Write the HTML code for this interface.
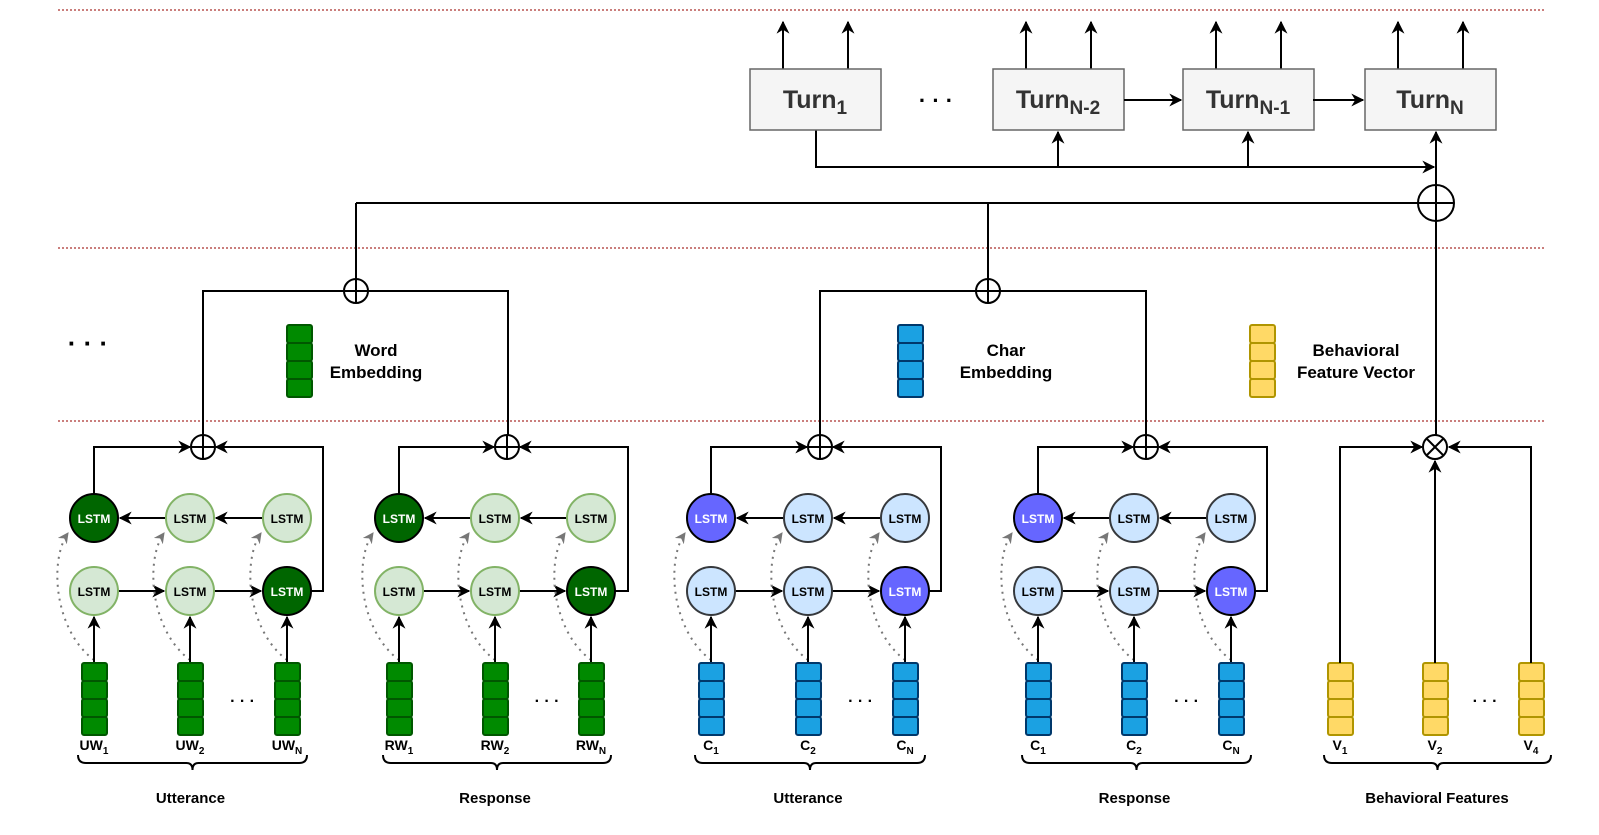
<!DOCTYPE html>
<html><head><meta charset="utf-8">
<style>
html,body{margin:0;padding:0;background:#fff;width:1599px;height:835px;overflow:hidden;}
svg{display:block;position:absolute;left:0;top:0;font-family:"Liberation Sans",Arial,sans-serif;}
</style></head>
<body><svg id="s" width="1599" height="835" viewBox="0 0 1599 835" xmlns="http://www.w3.org/2000/svg">
<defs>
<marker id="a2" viewBox="0 0 10 10" refX="9" refY="5" markerWidth="13" markerHeight="13" orient="auto" markerUnits="userSpaceOnUse"><path d="M0,0 L10,5 L0,10 L3,5 z" fill="#000"/></marker>
<marker id="g" viewBox="0 0 10 10" refX="9" refY="5" markerWidth="11" markerHeight="11" orient="auto" markerUnits="userSpaceOnUse"><path d="M0,0 L10,5 L0,10 L3,5 z" fill="#777"/></marker>
</defs>
</svg><script>
var s=document.getElementById('s'),out='';
function L(x1,y1,x2,y2,m,w){out+='<line x1="'+x1+'" y1="'+y1+'" x2="'+x2+'" y2="'+y2+'" stroke="#000" stroke-width="'+(w||2)+'"'+(m?' marker-end="url(#'+m+')"':'')+'/>';}
function P(d,m){out+='<path d="'+d+'" fill="none" stroke="#000" stroke-width="2"'+(m?' marker-end="url(#'+m+')"':'')+'/>';}
function T(x,y,t,sz,w,fill,anchor){out+='<text x="'+x+'" y="'+y+'" font-size="'+sz+'" font-weight="'+(w||'bold')+'" fill="'+(fill||'#000')+'" text-anchor="'+(anchor||'middle')+'">'+t+'</text>';}
function plus(x,y,r){out+='<circle cx="'+x+'" cy="'+y+'" r="'+r+'" fill="#fff" stroke="#000" stroke-width="2"/>';L(x-r,y,x+r,y);L(x,y-r,x,y+r);}
function times(x,y,r){out+='<circle cx="'+x+'" cy="'+y+'" r="'+r+'" fill="#fff" stroke="#000" stroke-width="2"/>';var d=r*0.707;L(x-d,y-d,x+d,y+d);L(x-d,y+d,x+d,y-d);}
function stack(x,y,fill,st){for(var i=0;i<4;i++)out+='<rect x="'+x+'" y="'+(y+i*18)+'" width="25" height="18" rx="2" fill="'+fill+'" stroke="'+st+'" stroke-width="2"/>';}
function node(x,y,dark,pal){var f,st,tc;if(dark){f=pal.df;st='#000';tc='#fff';}else{f=pal.lf;st=pal.ls;tc='#000';}
out+='<circle cx="'+x+'" cy="'+y+'" r="24" fill="'+f+'" stroke="'+st+'" stroke-width="2"/>';T(x,y+5,'LSTM',12,'bold',tc);}
function lab(x,y,a,b){out+='<text x="'+x+'" y="'+y+'" font-size="14" font-weight="bold" text-anchor="middle">'+a+'<tspan font-size="10" dy="4">'+b+'</tspan></text>';}
[10,248,421].forEach(function(y){out+='<line x1="58" y1="'+y+'" x2="1545" y2="'+y+'" stroke="#b85450" stroke-width="1.5" stroke-dasharray="2,2"/>';});
var green={df:'#006600',lf:'#d5e8d4',ls:'#82b366',ef:'#008a00',es:'#005700'};
var blue={df:'#6666ff',lf:'#cce5ff',ls:'#36393d',ef:'#1ba1e2',es:'#00386b'};
function brace(x1,x2,y){var m=(x1+x2)/2;out+='<path d="M'+x1+','+y+' q0,8 8,8 H'+(m-6)+' q6,0 6,7 q0,-7 6,-7 H'+(x2-8)+' q8,0 8,-8" fill="none" stroke="#000" stroke-width="2"/>';}
function group(xs,sx,rx,pal,labs,title){
  var yT=518,yB=591;
  L(xs[2]-24,yT,xs[1]+26,yT,'a2');L(xs[1]-24,yT,xs[0]+26,yT,'a2');
  L(xs[0]+24,yB,xs[1]-26,yB,'a2');L(xs[1]+24,yB,xs[2]-26,yB,'a2');
  for(var i=0;i<3;i++){
    var x=xs[i];
    out+='<path d="M'+x+',660 C'+(x-40)+',630 '+(x-45)+',560 '+(x-26)+',533" fill="none" stroke="#777" stroke-width="2" stroke-dasharray="2,5" marker-end="url(#g)"/>';
    L(x,663,x,617,'a2');
    stack(x-12,663,pal.ef,pal.es);
    lab(x,750,labs[i][0],labs[i][1]);
  }
  node(xs[0],yT,true,pal);node(xs[1],yT,false,pal);node(xs[2],yT,false,pal);
  node(xs[0],yB,false,pal);node(xs[1],yB,false,pal);node(xs[2],yB,true,pal);
  P('M'+xs[0]+','+(yT-24)+' V447 H'+(sx-13),'a2');
  P('M'+(xs[2]+24)+','+yB+' H'+rx+' V447 H'+(sx+13),'a2');
  plus(sx,447,12);
  T((xs[1]+xs[2])/2+4,706,'· · ·',16,'bold');
  brace(xs[0]-16,xs[2]+20,755);
  T((xs[0]+xs[2])/2,803,title,15);
}
group([94,190,287],203,323,green,[['UW','1'],['UW','2'],['UW','N']],'Utterance');
group([399,495,591],507,628,green,[['RW','1'],['RW','2'],['RW','N']],'Response');
group([711,808,905],820,941,blue,[['C','1'],['C','2'],['C','N']],'Utterance');
group([1038,1134,1231],1146,1267,blue,[['C','1'],['C','2'],['C','N']],'Response');
[1340,1435,1531].forEach(function(x,i){stack(x-12,663,'#ffd966','#b09500');lab(x,750,'V',['1','2','4'][i]);});
P('M1340,663 V447 H1422','a2');P('M1531,663 V447 H1449','a2');L(1435,663,1435,461,'a2');
times(1435,447,12);
T(1485,706,'· · ·',16);
brace(1324,1551,755);T(1437,803,'Behavioral Features',15);
P('M203,435 V291 H508 V435');plus(356,291,12);
P('M820,435 V291 H1146 V435');plus(988,291,12);
L(356,279,356,203);L(988,279,988,203);L(356,203,1418,203);
L(1436,435,1436,221);
plus(1436,203,18);
L(1436,185,1436,132,'a2');
P('M816,130 V167 H1434','a2');
L(1058,167,1058,132,'a2');L(1248,167,1248,132,'a2');
var turns=[[750,'1'],[993,'N-2'],[1183,'N-1'],[1365,'N']];
turns.forEach(function(t){var x=t[0];
  L(x+33,69,x+33,22,'a2');L(x+98,69,x+98,22,'a2');
  out+='<rect x="'+x+'" y="69" width="131" height="61" fill="#f5f5f5" stroke="#666" stroke-width="1.5"/>';
  out+='<text x="'+(x+65)+'" y="108" font-size="25" font-weight="bold" text-anchor="middle" fill="#333">Turn<tspan font-size="19" dy="6">'+t[1]+'</tspan></text>';
});
L(1124,100,1181,100,'a2');L(1313,100,1363,100,'a2');
T(936,108,'· · ·',22);
T(88,352,'· · ·',26);
stack(287,325,green.ef,green.es);T(376,356,'Word',17);T(376,378,'Embedding',17);
stack(898,325,blue.ef,blue.es);T(1006,356,'Char',17);T(1006,378,'Embedding',17);
stack(1250,325,'#ffd966','#b09500');T(1356,356,'Behavioral',17);T(1356,378,'Feature Vector',17);
s.innerHTML+=out;
</script></body></html>
